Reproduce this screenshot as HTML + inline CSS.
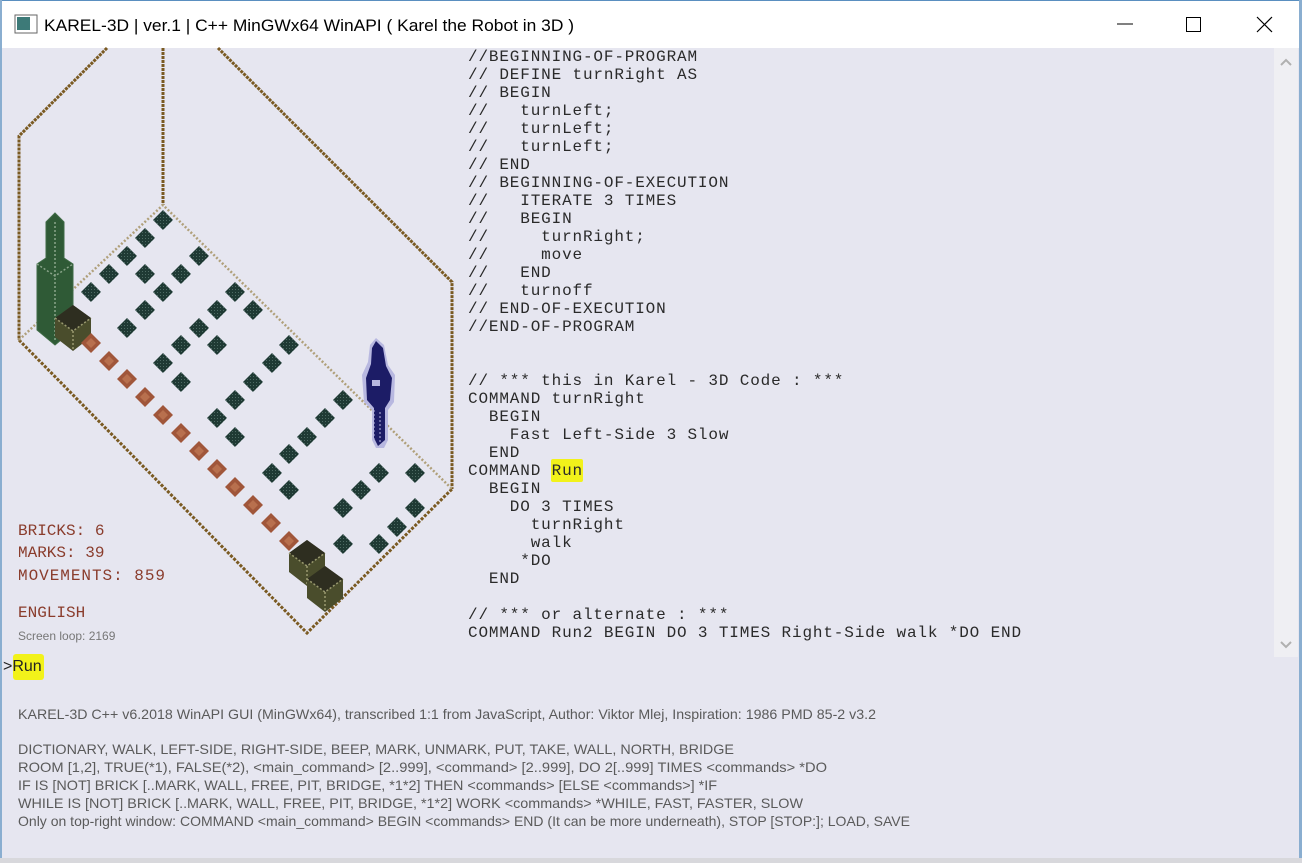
<!DOCTYPE html>
<html><head><meta charset="utf-8"><style>
html,body{margin:0;padding:0;width:1302px;height:863px;overflow:hidden;background:#e6e6f0}
svg{display:block}
.code{font-family:"Liberation Mono",monospace;font-size:16px;fill:#2a2a2a}
.code text{white-space:pre;letter-spacing:0.85px}
.stat{font-family:"Liberation Mono",monospace;font-size:16px;fill:#8a3c2c}
.foot{font-family:"Liberation Sans",sans-serif;font-size:14px;fill:#5a5a5a}
</style></head><body>
<svg width="1302" height="863" viewBox="0 0 1302 863" xmlns="http://www.w3.org/2000/svg">
<defs>
<pattern id="chk" width="3" height="3" patternUnits="userSpaceOnUse"><rect width="3" height="3" fill="#1f3a34"/><rect width="1" height="1" fill="#4e6b64"/></pattern>
<g id="mk"><polygon points="0,-10 10,0 0,10 -10,0" fill="url(#chk)"/></g>
<g id="br"><polygon points="0,-10 10,0 0,10 -10,0" fill="#a0563a"/><polygon points="0,-5 5,0 0,5 -5,0" fill="#b8704e"/></g>
<g id="cube"><polygon points="0,0 18,13 18,32 0,46 -18,32 -18,13" fill="#4a4d2c"/><polygon points="0,0 18,13 0,26 -18,13" fill="#2e2e20"/><path d="M0,26 V46 M-18,13 L0,26 L18,13" stroke="#9a9a70" stroke-width="1.5" stroke-dasharray="2,2" fill="none"/></g>
</defs>
<rect x="0" y="0" width="1302" height="863" fill="#e6e6f0"/>
<rect x="0" y="0" width="1302" height="48" fill="#ffffff"/>
<rect x="0" y="0" width="1302" height="1" fill="#5a8fc0"/>
<rect x="0" y="0" width="2" height="863" fill="#8aaed0"/>
<rect x="1299" y="0" width="3" height="863" fill="#8aaed0"/>
<rect x="15" y="15" width="22" height="18" fill="#fff" stroke="#666"/>
<rect x="17" y="17" width="13" height="13" fill="#3d7a78"/>
<text x="44" y="31" font-family="Liberation Sans,sans-serif" font-size="17" fill="#000" textLength="530" lengthAdjust="spacingAndGlyphs">KAREL-3D | ver.1 | C++ MinGWx64 WinAPI ( Karel the Robot in 3D )</text>
<line x1="1117" y1="24" x2="1133" y2="24" stroke="#000" stroke-width="1"/>
<rect x="1186.5" y="17.5" width="14" height="14" fill="none" stroke="#000"/>
<path d="M1257,17 L1272,32 M1272,17 L1257,32" stroke="#000" stroke-width="1.2"/>
<rect x="1274" y="48" width="24" height="609" fill="#efeff3"/>
<path d="M1281,65 L1286,60 L1291,65" stroke="#b0b0b0" stroke-width="2" fill="none"/>
<path d="M1281,642 L1286,647 L1291,642" stroke="#b0b0b0" stroke-width="2" fill="none"/>
<rect x="0" y="858" width="1302" height="5" fill="#d8d8dc"/>
<g stroke="#7a5a22" fill="none">
<path d="M107,48 L19,136 L19,340 M163,48 V205 M218,48 L452,282 V489" stroke-width="3" stroke-dasharray="3,1"/>
<path d="M19,340 L307,633 L452,489" stroke-width="3" stroke-dasharray="3,1.5"/>
<path d="M19,340 L163,205 L452,489" stroke="#b0a07a" stroke-width="2.5" stroke-dasharray="2,2"/>
</g>
<g>
<use href="#mk" x="91" y="292"/><use href="#mk" x="109" y="274"/><use href="#mk" x="127" y="256"/><use href="#mk" x="145" y="238"/><use href="#mk" x="163" y="220"/>
<use href="#mk" x="199" y="256"/><use href="#mk" x="145" y="274"/><use href="#mk" x="181" y="274"/><use href="#mk" x="163" y="292"/><use href="#mk" x="145" y="310"/><use href="#mk" x="127" y="328"/>
<use href="#mk" x="235" y="292"/><use href="#mk" x="217" y="310"/><use href="#mk" x="253" y="310"/><use href="#mk" x="199" y="328"/>
<use href="#mk" x="181" y="345"/><use href="#mk" x="217" y="345"/><use href="#mk" x="289" y="345"/><use href="#mk" x="163" y="363"/><use href="#mk" x="272" y="363"/>
<use href="#mk" x="181" y="382"/><use href="#mk" x="253" y="382"/><use href="#mk" x="235" y="400"/><use href="#mk" x="343" y="400"/><use href="#mk" x="217" y="418"/><use href="#mk" x="325" y="418"/>
<use href="#mk" x="235" y="437"/><use href="#mk" x="307" y="437"/><use href="#mk" x="289" y="454"/><use href="#mk" x="272" y="473"/><use href="#mk" x="379" y="473"/><use href="#mk" x="415" y="473"/>
<use href="#mk" x="289" y="490"/><use href="#mk" x="361" y="490"/><use href="#mk" x="343" y="508"/><use href="#mk" x="415" y="508"/><use href="#mk" x="397" y="527"/><use href="#mk" x="343" y="544"/><use href="#mk" x="379" y="544"/>
</g>
<polygon points="55,213 64,222 64,258 73,264 73,330 55,345 37,330 37,264 46,258 46,222" fill="#2f5a36" stroke="#3f6b46"/>
<path d="M55,222 V340 M37,264 L55,276 L73,264" stroke="#8aa48a" stroke-width="1.5" stroke-dasharray="2,2" fill="none"/>
<use href="#cube" x="73" y="305"/>
<g>
<use href="#br" x="91" y="343"/><use href="#br" x="109" y="361"/><use href="#br" x="127" y="379"/><use href="#br" x="145" y="397"/><use href="#br" x="163" y="415"/><use href="#br" x="181" y="433"/>
<use href="#br" x="199" y="451"/><use href="#br" x="217" y="469"/><use href="#br" x="235" y="487"/><use href="#br" x="253" y="505"/><use href="#br" x="271" y="523"/><use href="#br" x="289" y="541"/>
</g>
<use href="#cube" x="307" y="540"/>
<use href="#cube" x="325" y="566"/>
<g>
<polygon points="376,338 384,345 388,365 395,375 394,402 388,410 388,440 384,448 376,448 372,440 372,410 364,402 362,375 368,362 370,345" fill="#b8b8e0"/>
<polygon points="376,341 383,348 386,366 392,378 390,400 385,408 385,440 378,446 374,438 374,408 367,400 366,378 371,364 372,348" fill="#1c1c66"/>
<rect x="372" y="380" width="8" height="6" fill="#b8b8e0"/>
<path d="M374,410 V440 M380,412 V444" stroke="#b8b8e0" stroke-width="1" stroke-dasharray="2,2"/>
</g>
<text class="stat" x="18" y="535">BRICKS: 6</text>
<text class="stat" x="18" y="557">MARKS: 39</text>
<text class="stat" x="18" y="580" textLength="147">MOVEMENTS: 859</text>
<text class="stat" x="18" y="617">ENGLISH</text>
<text x="18" y="640" font-family="Liberation Sans,sans-serif" font-size="12" fill="#777">Screen loop: 2169</text>
<rect x="13" y="654" width="31" height="26" fill="#f2f21a" rx="3"/>
<text x="3" y="671" font-family="Liberation Sans,sans-serif" font-size="16" fill="#222">&gt;Run</text>
<rect x="551" y="459" width="32" height="23" fill="#f2f21a" rx="2"/>
<g class="code">
<text x="468" y="61">//BEGINNING-OF-PROGRAM</text>
<text x="468" y="79">// DEFINE turnRight AS</text>
<text x="468" y="97">// BEGIN</text>
<text x="468" y="115">//   turnLeft;</text>
<text x="468" y="133">//   turnLeft;</text>
<text x="468" y="151">//   turnLeft;</text>
<text x="468" y="169">// END</text>
<text x="468" y="187">// BEGINNING-OF-EXECUTION</text>
<text x="468" y="205">//   ITERATE 3 TIMES</text>
<text x="468" y="223">//   BEGIN</text>
<text x="468" y="241">//     turnRight;</text>
<text x="468" y="259">//     move</text>
<text x="468" y="277">//   END</text>
<text x="468" y="295">//   turnoff</text>
<text x="468" y="313">// END-OF-EXECUTION</text>
<text x="468" y="331">//END-OF-PROGRAM</text>
<text x="468" y="385">// *** this in Karel - 3D Code : ***</text>
<text x="468" y="403">COMMAND turnRight</text>
<text x="468" y="421">  BEGIN</text>
<text x="468" y="439">    Fast Left-Side 3 Slow</text>
<text x="468" y="457">  END</text>
<text x="468" y="475">COMMAND Run</text>
<text x="468" y="493">  BEGIN</text>
<text x="468" y="511">    DO 3 TIMES</text>
<text x="468" y="529">      turnRight</text>
<text x="468" y="547">      walk</text>
<text x="468" y="565">     *DO</text>
<text x="468" y="583">  END</text>
<text x="468" y="619">// *** or alternate : ***</text>
<text x="468" y="637">COMMAND Run2 BEGIN DO 3 TIMES Right-Side walk *DO END</text>
</g>
<text class="foot" x="18" y="719" textLength="858" lengthAdjust="spacingAndGlyphs">KAREL-3D C++ v6.2018 WinAPI GUI (MinGWx64), transcribed 1:1 from JavaScript, Author: Viktor Mlej, Inspiration: 1986 PMD 85-2 v3.2</text>
<text class="foot" x="18" y="754" textLength="716" lengthAdjust="spacingAndGlyphs">DICTIONARY, WALK, LEFT-SIDE, RIGHT-SIDE, BEEP, MARK, UNMARK, PUT, TAKE, WALL, NORTH, BRIDGE</text>
<text class="foot" x="18" y="772" textLength="809" lengthAdjust="spacingAndGlyphs">ROOM [1,2], TRUE(*1), FALSE(*2), &lt;main_command&gt; [2..999], &lt;command&gt; [2..999], DO 2[..999] TIMES &lt;commands&gt; *DO</text>
<text class="foot" x="18" y="790" textLength="699" lengthAdjust="spacingAndGlyphs">IF IS [NOT] BRICK [..MARK, WALL, FREE, PIT, BRIDGE, *1*2] THEN &lt;commands&gt; [ELSE &lt;commands&gt;] *IF</text>
<text class="foot" x="18" y="808" textLength="785" lengthAdjust="spacingAndGlyphs">WHILE IS [NOT] BRICK [..MARK, WALL, FREE, PIT, BRIDGE, *1*2] WORK &lt;commands&gt; *WHILE, FAST, FASTER, SLOW</text>
<text class="foot" x="18" y="826" textLength="892" lengthAdjust="spacingAndGlyphs">Only on top-right window: COMMAND &lt;main_command&gt; BEGIN &lt;commands&gt; END (It can be more underneath), STOP [STOP:]; LOAD, SAVE</text>
</svg>
</body></html>
